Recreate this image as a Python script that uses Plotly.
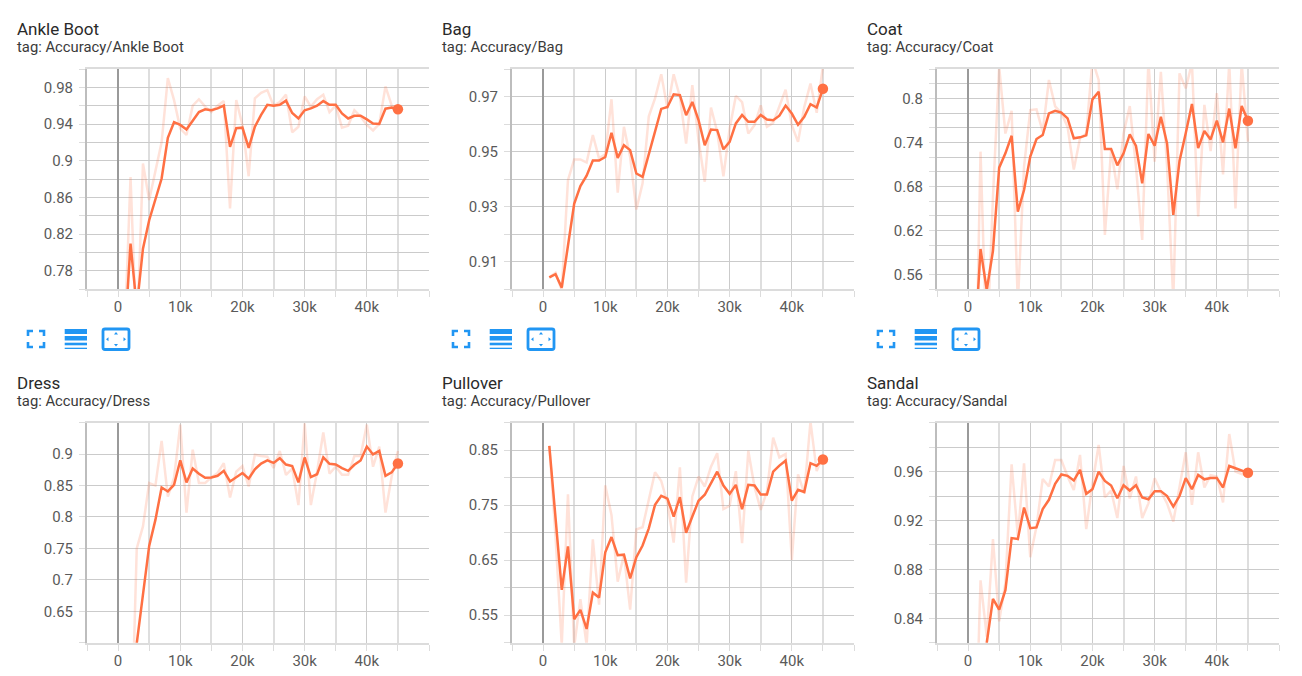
import plotly.graph_objects as go

W, H = 1302, 676
ORANGE = "#ff7043"
BLUE = "#2196f3"

steps = [k * 1000 for k in range(1, 46)]
x_label_vals = [0, 10000, 20000, 30000, 40000]
x_label_text = ["0", "10k", "20k", "30k", "40k"]
x_minor_vals = [-5000, 5000, 15000, 25000, 35000, 45000, 50000]

ankle_raw = [.70,.882,.70,.897,.857,.89,.92,.99,.966,.935,.928,.96,.967,.959,.953,.96,.965,.848,.966,.939,.883,.968,.974,.977,.96,.964,.972,.931,.937,.97,.959,.967,.972,.953,.96,.936,.938,.955,.948,.939,.933,.94,.981,.96,.957]
ankle_smooth = [.70,.8095,.74,.804,.835,.857,.8805,.925,.942,.939,.934,.9436,.953,.956,.955,.957,.96,.915,.9355,.936,.914,.937,.95,.961,.96,.961,.9655,.952,.946,.955,.957,.96,.965,.961,.961,.9516,.946,.949,.949,.945,.9405,.94,.9567,.958,.956]

bag_raw = [.9042,.9059,.8996,.9396,.9471,.9471,.946,.956,.9475,.949,.969,.935,.959,.948,.9289,.9384,.9628,.9693,.9781,.9656,.9781,.9699,.9529,.9741,.9541,.939,.966,.9572,.941,.9584,.9702,.968,.9565,.9596,.9668,.959,.9604,.9662,.9725,.9596,.9535,.9662,.9747,.9641,.981]
bag_smooth = [.9042,.9054,.9005,.9165,.931,.9374,.9412,.9467,.9467,.948,.9568,.9477,.9523,.9505,.942,.9408,.9493,.9572,.9655,.9662,.9708,.9705,.9632,.968,.9614,.9523,.958,.9578,.9508,.9535,.9602,.9633,.9608,.9608,.9633,.9616,.9614,.963,.9667,.9638,.9597,.9626,.9672,.966,.9728]

coat_raw = [.30,.7273,.45,.666,.843,.752,.783,.52,.707,.784,.785,.7545,.825,.789,.78,.761,.703,.7455,.752,.852,.825,.6136,.7295,.676,.752,.7895,.707,.607,.852,.7136,.836,.707,.525,.834,.8136,.848,.639,.791,.728,.807,.6964,.848,.65,.848,.741]
coat_smooth = [.45,.5945,.5386,.592,.7055,.725,.749,.6455,.675,.7205,.7445,.75,.7795,.783,.7805,.7727,.7455,.7468,.7495,.7986,.809,.731,.731,.7086,.725,.751,.735,.684,.7514,.7355,.775,.7386,.641,.7145,.7523,.7923,.732,.7555,.744,.7695,.74,.786,.732,.7895,.7695]

dress_raw = [.30,.40,.75,.785,.854,.85,.921,.8326,.862,.947,.807,.907,.854,.854,.863,.87,.8857,.831,.872,.881,.8485,.899,.897,.896,.878,.905,.867,.877,.819,.949,.819,.872,.9345,.869,.88,.867,.867,.897,.897,.947,.88,.912,.807,.8644,.905]
dress_smooth = [.45,.52,.599,.673,.754,.7954,.847,.8406,.851,.89,.855,.877,.8687,.8623,.8628,.8655,.8735,.8565,.8628,.87,.861,.876,.885,.89,.886,.8936,.8835,.881,.855,.8947,.8634,.868,.895,.8846,.8835,.8777,.8735,.883,.89,.912,.8995,.905,.8655,.871,.885]

pullover_raw = [.858,.693,.496,.77,.493,.579,.496,.688,.569,.786,.732,.611,.66,.56,.706,.71,.76,.81,.794,.7536,.682,.819,.609,.766,.802,.784,.82,.8445,.743,.749,.812,.681,.849,.783,.7415,.775,.873,.837,.843,.6506,.806,.772,.902,.812,.84]
pullover_smooth = [.858,.7294,.596,.675,.5427,.5597,.525,.591,.582,.6645,.692,.659,.66,.617,.6555,.6767,.708,.7506,.767,.762,.7294,.7645,.70,.7294,.758,.769,.79,.811,.7858,.7706,.787,.7427,.787,.7858,.7694,.7694,.811,.822,.831,.7585,.778,.774,.8264,.8215,.833]

sandal_raw = [.70,.871,.825,.9048,.8375,.869,.966,.907,.9668,.89,.915,.954,.9478,.9695,.9695,.956,.945,.9736,.913,.9505,.9818,.939,.9445,.922,.9646,.938,.956,.922,.934,.9546,.9437,.934,.919,.949,.9758,.9328,.9758,.947,.957,.956,.9347,.9907,.96,.958,.9565]
sandal_smooth = [.75,.80,.82,.8558,.847,.863,.9056,.9048,.9306,.9137,.9143,.9293,.9369,.95,.9576,.9565,.9527,.9614,.9418,.9456,.96,.9524,.9486,.9382,.9488,.9445,.9488,.9388,.9374,.944,.944,.94,.9314,.94,.9546,.9456,.9573,.9537,.9548,.9548,.947,.9646,.9627,.961,.959]

panels = [
    dict(name="Ankle Boot", left=87, top=69, raw=ankle_raw, smooth=ankle_smooth, yr=[.76, 1.0],
         major=[.78, .82, .86, .90, .94, .98], text=["0.78", "0.82", "0.86", "0.9", "0.94", "0.98"],
         minor=[.76, .80, .84, .88, .92, .96, 1.0]),
    dict(name="Bag", left=512, top=69, raw=bag_raw, smooth=bag_smooth, yr=[.90, .98],
         major=[.91, .93, .95, .97], text=["0.91", "0.93", "0.95", "0.97"],
         minor=[.90, .92, .94, .96, .98]),
    dict(name="Coat", left=937, top=69, raw=coat_raw, smooth=coat_smooth, yr=[.54, .84],
         major=[.56, .62, .68, .74, .80], text=["0.56", "0.62", "0.68", "0.74", "0.8"],
         minor=[.54, .58, .60, .64, .66, .70, .72, .76, .78, .82, .84]),
    dict(name="Dress", left=87, top=422.7, raw=dress_raw, smooth=dress_smooth, yr=[.60, .95],
         major=[.65, .70, .75, .80, .85, .90], text=["0.65", "0.7", "0.75", "0.8", "0.85", "0.9"],
         minor=[.60, .95]),
    dict(name="Pullover", left=512, top=422.7, raw=pullover_raw, smooth=pullover_smooth, yr=[.50, .90],
         major=[.55, .65, .75, .85], text=["0.55", "0.65", "0.75", "0.85"],
         minor=[.50, .60, .70, .80, .90]),
    dict(name="Sandal", left=937, top=422.7, raw=sandal_raw, smooth=sandal_smooth, yr=[.82, 1.0],
         major=[.84, .88, .92, .96], text=["0.84", "0.88", "0.92", "0.96"],
         minor=[.82, .86, .90, .94, .98, 1.0]),
]

PW, PH = 342, 220


def px(v):
    return v / W


def py(v):
    return 1 - v / H


fig = go.Figure()
layout = dict(width=W, height=H, margin=dict(l=0, r=0, t=0, b=0, pad=0), autosize=False,
              paper_bgcolor="white", plot_bgcolor="white", showlegend=False,
              font=dict(family="Roboto", size=14, color="#5a5a5a"))
annotations, shapes = [], []
GRID = "#cbcbcb"
GRID_X_MINOR = "#dedede"

for i, p in enumerate(panels):
    sfx = "" if i == 0 else str(i + 1)
    xa, ya = "xaxis" + sfx, "yaxis" + sfx
    xref, yref = "x" + sfx, "y" + sfx
    fig.add_trace(go.Scatter(x=steps, y=p["raw"], mode="lines", xaxis=xref, yaxis=yref,
                             line=dict(color="rgba(255,112,67,0.2)", width=2.5), hoverinfo="skip"))
    fig.add_trace(go.Scatter(x=steps, y=p["smooth"], mode="lines", xaxis=xref, yaxis=yref,
                             line=dict(color=ORANGE, width=2.5), hoverinfo="skip"))
    fig.add_trace(go.Scatter(x=steps[-1:], y=p["smooth"][-1:], mode="markers", xaxis=xref, yaxis=yref,
                             marker=dict(color=ORANGE, size=10.5), cliponaxis=False, hoverinfo="skip"))
    left, top = p["left"], p["top"]
    layout[xa] = dict(domain=[px(left), px(left + PW)], range=[-5000, 50000], anchor=yref,
                      tickmode="array", tickvals=x_label_vals, ticktext=x_label_text,
                      ticks="outside", ticklen=6, tickcolor="#dcdcdc", tickwidth=1,
                      showgrid=True, gridcolor=GRID, gridwidth=1,
                      zeroline=True, zerolinecolor="#9a9a9a", zerolinewidth=2,
                      showline=True, linecolor="#dcdcdc", linewidth=2, mirror=True,
                      tickfont=dict(size=15, color="#5a5a5a", family="Roboto"), ticklabelstandoff=-3,
                      minor=dict(tickmode="array", tickvals=x_minor_vals, ticks="outside", ticklen=6,
                                 tickcolor="#dcdcdc", showgrid=True, gridcolor=GRID_X_MINOR, gridwidth=2))
    layout[ya] = dict(domain=[py(top + PH), py(top)], range=p["yr"], anchor=xref,
                      tickmode="array", tickvals=p["major"], ticktext=p["text"],
                      ticks="outside", ticklen=6, tickcolor="#dcdcdc", tickwidth=1,
                      showgrid=True, gridcolor=GRID, gridwidth=1, zeroline=False,
                      showline=True, linecolor="#bdbdbd", linewidth=2,
                      tickfont=dict(size=15, color="#5a5a5a", family="Roboto"), ticklabelstandoff=3,
                      minor=dict(tickmode="array", tickvals=p["minor"], ticks="outside", ticklen=6,
                                 tickcolor="#dcdcdc", showgrid=True, gridcolor=GRID, gridwidth=1))
    tx = left - 72
    annotations.append(dict(x=px(tx), y=py(top - 40), xref="paper", yref="paper", xanchor="left",
                            yanchor="middle", text=p["name"], showarrow=False,
                            font=dict(family="Roboto", size=17, color="#2a2a2a")))
    annotations.append(dict(x=px(tx), y=py(top - 22), xref="paper", yref="paper", xanchor="left",
                            yanchor="middle", text="tag: Accuracy/" + p["name"], showarrow=False,
                            font=dict(family="Roboto", size=14.8, color="#3a3a3a")))

    if i < 3:
        ox = left - 87
        x0, x1, y0, y1 = 28 + ox, 44 + ox, 331, 347
        arm = 5
        for cx, cy, sx, sy in [(x0, y0, 1, 1), (x1, y0, -1, 1), (x0, y1, 1, -1), (x1, y1, -1, -1)]:
            path = (f"M {px(cx + sx * arm)} {py(cy)} L {px(cx)} {py(cy)} L {px(cx)} {py(cy + sy * arm)}")
            shapes.append(dict(type="path", xref="paper", yref="paper", path=path,
                               line=dict(color=BLUE, width=2.6)))
        for b0, b1 in [(329, 334), (336, 340.5), (342.7, 345.3), (347.7, 349)]:
            shapes.append(dict(type="rect", xref="paper", yref="paper", x0=px(64.7 + ox), x1=px(87 + ox),
                               y0=py(b0), y1=py(b1), fillcolor=BLUE, line=dict(width=0)))
        bx0, bx1, by0, by1 = 103 + ox, 129 + ox, 329, 349.5
        r = 2
        path = (f"M {px(bx0 + r)} {py(by0)} L {px(bx1 - r)} {py(by0)} Q {px(bx1)} {py(by0)} {px(bx1)} {py(by0 + r)} "
                f"L {px(bx1)} {py(by1 - r)} Q {px(bx1)} {py(by1)} {px(bx1 - r)} {py(by1)} "
                f"L {px(bx0 + r)} {py(by1)} Q {px(bx0)} {py(by1)} {px(bx0)} {py(by1 - r)} "
                f"L {px(bx0)} {py(by0 + r)} Q {px(bx0)} {py(by0)} {px(bx0 + r)} {py(by0)} Z")
        shapes.append(dict(type="path", xref="paper", yref="paper", path=path, line=dict(color=BLUE, width=2.8)))
        cx, cy = 116 + ox, 339.2
        for a, b, c in [((cx - 2, cy - 4.8), (cx + 2, cy - 4.8), (cx, cy - 7.3)),
                        ((cx - 2, cy + 4.8), (cx + 2, cy + 4.8), (cx, cy + 7.3)),
                        ((cx - 7.5, cy - 2), (cx - 7.5, cy + 2), (cx - 10, cy)),
                        ((cx + 7.5, cy - 2), (cx + 7.5, cy + 2), (cx + 10, cy))]:
            path = f"M {px(a[0])} {py(a[1])} L {px(b[0])} {py(b[1])} L {px(c[0])} {py(c[1])} Z"
            shapes.append(dict(type="path", xref="paper", yref="paper", path=path,
                               fillcolor=BLUE, line=dict(width=0)))

layout["annotations"] = annotations
layout["shapes"] = shapes
fig.update_layout(**layout)
fig.write_html("out.html", config=dict(displayModeBar=False),
               post_script="document.body.style.margin='0';document.documentElement.style.overflow='hidden';")
